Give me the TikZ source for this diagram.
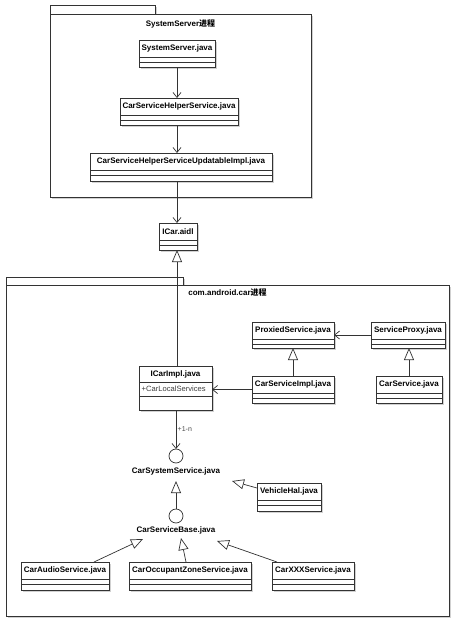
\documentclass[tikz,border=0pt]{standalone}
\usepackage{fontspec}
\setmainfont{Liberation Sans}
\newfontfamily\cjk{Noto Sans CJK SC}
\usetikzlibrary{arrows.meta,shadows,calc}
\definecolor{linec}{HTML}{333333}
\tikzset{
  softshadow/.style={drop shadow={shadow xshift=1.5pt, shadow yshift=-1.5pt, opacity=0.18, fill=black}},
  clsbox/.style={draw=linec, fill=white, line width=0.7pt, inner sep=0pt, outer sep=0pt, softshadow},
  clsline/.style={draw=linec, line width=0.7pt},
  clstitle/.style={font=\fontsize{8}{9}\selectfont\bfseries, inner sep=0pt, text=black},
  attrtext/.style={font=\fontsize{7.6}{9}\selectfont, inner sep=0pt, text=black!75},
  pkg/.style={draw=linec, line width=0.8pt, fill=white, inner sep=0pt, outer sep=0pt, softshadow},
  pkgtitle/.style={font=\fontsize{8}{9}\selectfont\bfseries, inner sep=0pt},
  lolli/.style={circle, draw=linec, line width=0.7pt, fill=white, minimum size=14pt, inner sep=0pt, outer sep=0pt},
  inherit/.style={draw=linec, line width=0.7pt, -{Triangle[open,length=12pt,width=10pt,fill=white]}},
  assoc/.style={draw=linec, line width=0.7pt, -{Straight Barb[length=5pt,width=8pt]}},
  multlabel/.style={font=\fontsize{7}{8}\selectfont, inner sep=0pt, text=black!70},
}
\newcommand\umlclass[6]{%
  \node[clsbox, minimum width={(#4-#2)*1pt}, minimum height={(#5-#3)*1pt}] (#1) at ({(#2+#4)/2},{(#3+#5)/2}) {};
  \node[clstitle] (#1-t) at ({(#2+#4)/2},{#3+8.5}) {#6};
  \draw[clsline] (#2,#3+17) -- (#4,#3+17);
  \draw[clsline] (#2,#3+22) -- (#4,#3+22);
}
\begin{document}
\begin{tikzpicture}[x=1pt,y=-1pt]
\useasboundingbox (0,0) rectangle (474,641);
\fill[white] (0,0) rectangle (474,641);

% packages
\node[pkg, minimum width=105pt, minimum height=9pt] (pkgAtab) at (102.5,9.5) {};
\node[pkg, minimum width=261pt, minimum height=183pt] (pkgA) at (180.5,105.5) {};
\node[pkgtitle] (pkgA-t) at (180.5,24) {SystemServer{\cjk 进程}};

\node[pkg, minimum width=177pt, minimum height=8pt] (pkgBtab) at (94.5,281) {};
\node[pkg, minimum width=443pt, minimum height=331pt] (pkgB) at (227.5,450.5) {};
\node[pkgtitle] (pkgB-t) at (227.5,293) {com.android.car{\cjk 进程}};

% classes
\umlclass{ss}{139}{40}{215}{67}{SystemServer.java}
\umlclass{cshs}{120}{98}{238}{125}{CarServiceHelperService.java}
\umlclass{upd}{90}{153}{272}{181}{CarServiceHelperServiceUpdatableImpl.java}
\umlclass{icar}{159}{223}{197}{250}{ICar.aidl}

\umlclass{ps}{252}{322}{334}{348}{ProxiedService.java}
\umlclass{sp}{371}{322}{445}{348}{ServiceProxy.java}
\umlclass{csi}{252}{376}{334}{403}{CarServiceImpl.java}
\umlclass{cs}{376}{376}{442}{403}{CarService.java}

% ICarImpl with attribute
\node[clsbox, minimum width=73pt, minimum height=44pt] (icimpl) at (175.5,388) {};
\node[clstitle] (icimpl-t) at (175.5,374) {ICarImpl.java};
\draw[clsline] (139,382) -- (212,382);
\node[attrtext, anchor=west] (icimpl-a) at (141.5,389) {+CarLocalServices};
\draw[clsline] (139,396) -- (212,396);

\umlclass{vh}{257}{483}{321}{511}{VehicleHal.java}
\umlclass{ca}{21}{562}{109}{590}{CarAudioService.java}
\umlclass{coz}{129}{562}{251}{590}{CarOccupantZoneService.java}
\umlclass{cx}{272}{562}{354}{590}{CarXXXService.java}

% interfaces (lollipops)
\node[lolli] (css) at (176,456) {};
\node[clstitle] (css-l) at (176,471) {CarSystemService.java};
\node[lolli] (csb) at (176,516) {};
\node[clstitle] (csb-l) at (176,530) {CarServiceBase.java};

\coordinate (csstip) at (176,481);
\coordinate (vhtip) at (232,481);
\coordinate (tipA) at (143,539);
\coordinate (tipB) at (181,538);
\coordinate (tipC) at (217,541);

% connectors
\draw[assoc] (ss.south) -- (ss.south |- cshs.north);
\draw[assoc] (cshs.south -| ss.south) -- (ss.south |- upd.north);
\draw[assoc] (upd.south -| 177,0) -- (icar.north -| 177,0);
\draw[inherit] (icimpl.north -| 177,0) -- (icar.south -| 177,0);
\draw[assoc] (icimpl.south -| css.north) -- (css.north);
\node[multlabel, anchor=west] (mult) at (177.5,429) {+1-n};

\draw[assoc] (sp.west) -- (ps.east);
\draw[inherit] (csi.north) -- (ps.south);
\draw[inherit] (cs.north) -- (cs.north |- sp.south);
\draw[assoc] (csi.west) -- (csi.west -| icimpl.east);

\draw[inherit] (csb.north) -- (csstip);
\draw[inherit] ([yshift=9pt]vh.west) -- (vhtip);
\draw[inherit] ([xshift=29pt]ca.north) -- (tipA);
\draw[inherit] ([xshift=-4pt]coz.north) -- (tipB);
\draw[inherit] ([xshift=-36pt]cx.north) -- (tipC);
\end{tikzpicture}
\end{document}
